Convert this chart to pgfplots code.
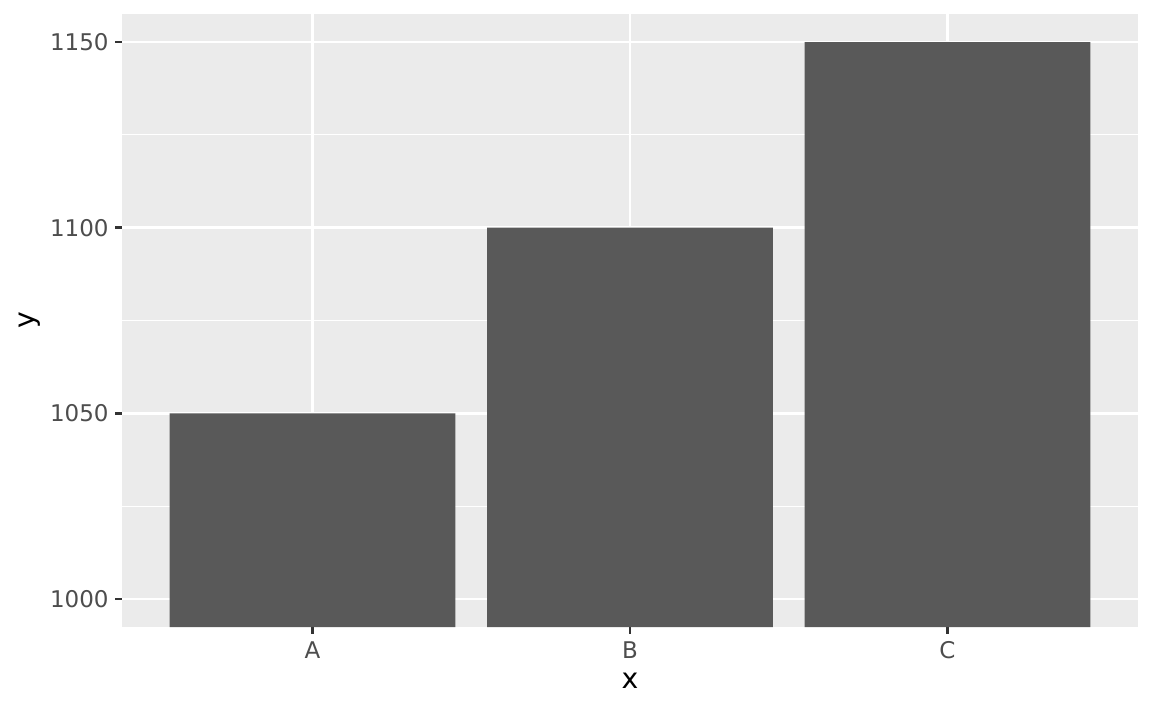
\documentclass[border=0pt]{standalone}
\usepackage{pgfplots}
\pgfplotsset{compat=1.18}
\usepackage{fontspec}
\setmainfont{DejaVu Sans}
\definecolor{panelbg}{HTML}{EBEBEB}
\definecolor{barcol}{HTML}{595959}
\definecolor{ticklab}{HTML}{4D4D4D}
\definecolor{tickcol}{HTML}{333333}
\begin{document}
\begin{tikzpicture}
\begin{axis}[
  at={(0,0)}, anchor=south west,
  scale only axis,
  width=406.4pt, height=245.2pt,
  xmin=0.4, xmax=3.6,
  ymin=992.46, ymax=1157.54,
  axis line style={draw=none},
  axis background/.style={fill=panelbg},
  xtick={1,2,3},
  xticklabels={A,B,C},
  ytick={1000,1050,1100,1150},
  minor ytick={1025,1075,1125},
  yticklabel style={/pgf/number format/1000 sep={}},
  /pgf/number format/assume math mode=true,
  grid=both,
  major grid style={white, line width=1.07pt},
  minor grid style={white, line width=0.53pt},
  minor tick length=0pt,
  major tick length=2.75pt,
  tick align=outside,
  tick style={tickcol, line width=1.07pt},
  xtick pos=bottom, ytick pos=left,
  tick label style={font=\fontsize{9.2}{10}\selectfont, text=ticklab, inner sep=0pt},
  yticklabel style={anchor=east, xshift=-2.4pt},
  xticklabel style={anchor=north, yshift=-2.8pt},
  xlabel={x}, ylabel={y},
  label style={font=\fontsize{11.3}{13}\selectfont, text=black, inner sep=0pt},
  xlabel style={at={(axis description cs:0.5,0)}, anchor=center, yshift=-21.6pt},
  ylabel style={at={(axis description cs:-0.0906,0.5)}, anchor=center},
  clip=true,
]
\addplot[ybar, bar width=0.9, fill=barcol, draw=none] coordinates {(1,1050) (2,1100) (3,1150)};
\end{axis}
\useasboundingbox (-48.8pt,-33.6pt) rectangle (412pt,250.8pt);
\end{tikzpicture}
\end{document}
